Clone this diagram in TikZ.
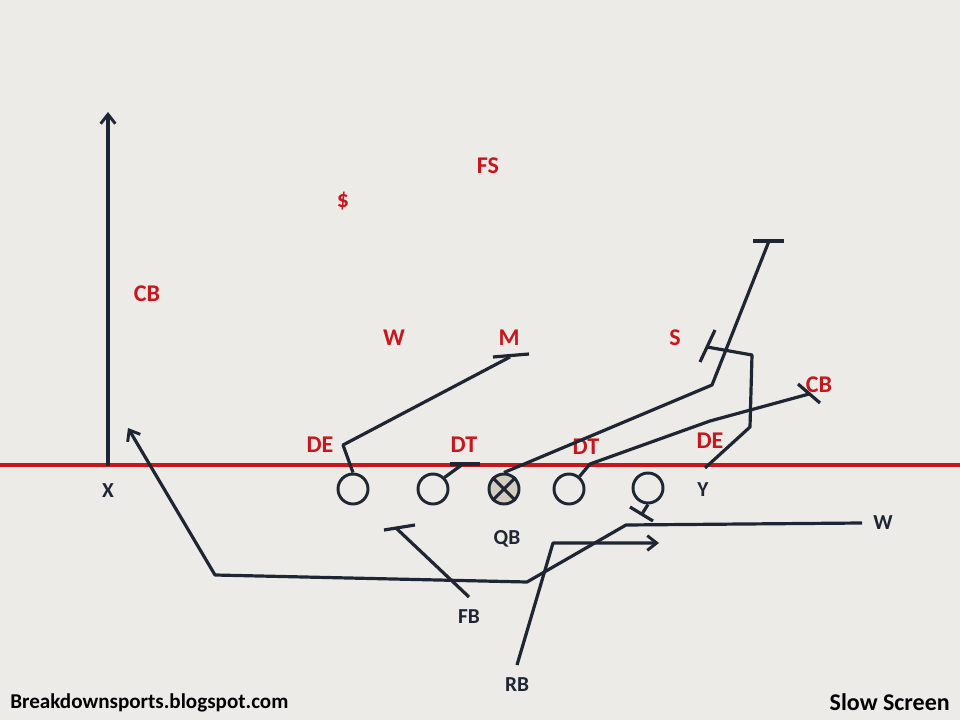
\documentclass[tikz,border=0pt]{standalone}
\usepackage{fontspec}
\setmainfont{Carlito}
\usetikzlibrary{arrows.meta}
\definecolor{bg}{HTML}{EDEBE8}
\definecolor{fieldred}{HTML}{C8161D}
\definecolor{ink}{HTML}{1E2533}
\definecolor{cfill}{HTML}{D3CCC0}
\tikzset{
  route/.style={draw=ink, line width=2.4pt, line join=round},
  arr/.style={route, -{Straight Barb[length=7pt,width=11pt,line width=2.2pt]}},
  oline/.style={circle, draw=ink, line width=2.2pt, minimum size=22.5pt, inner sep=0pt},
  deflab/.style={text=fieldred, font=\bfseries\fontsize{18}{20}\selectfont, inner sep=1pt},
  offlab/.style={text=ink, font=\bfseries\fontsize{16}{18}\selectfont, inner sep=1pt},
  foot/.style={text=black, font=\bfseries\fontsize{15.8}{18}\selectfont, inner sep=0pt}
}
\begin{document}
\begin{tikzpicture}[x=0.75pt,y=-0.75pt]
\fill[bg] (0,0) rectangle (960,720);
\useasboundingbox (0,0) rectangle (960,720);
% line of scrimmage
\draw[fieldred, line width=2.3pt] (0,465) -- (960,465);
% offensive line
\node[oline] (LT) at (353,489) {};
\node[oline] (LG) at (433,489) {};
\node[oline, fill=cfill] (C) at (504,489) {};
\draw[ink, line width=2.2pt] (C.45) -- (C.225) (C.135) -- (C.315);
\node[oline] (RG) at (569,489) {};
\node[oline] (RT) at (648,488) {};
% labels: defense
\node[deflab] (FS) at (488,166) {FS};
\node[deflab] (DOL) at (343,201) {\$};
\node[deflab] (CBL) at (147,294) {CB};
\node[deflab] (WL) at (394,338) {W};
\node[deflab] (ML) at (509,338) {M};
\node[deflab] (SL) at (675,338) {S};
\node[deflab] (CBR) at (819,385) {CB};
\node[deflab] (DEL) at (320,445) {DE};
\node[deflab] (DTL) at (464,445) {DT};
\node[deflab] (DTR) at (586,447) {DT};
\node[deflab] (DER) at (710,441) {DE};
% labels: offense
\node[offlab] (X) at (108,491) {X};
\node[offlab] (Y) at (703,490) {Y};
\node[offlab] (QB) at (507,539) {QB};
\node[offlab] (W) at (883,523) {W};
\node[offlab] (FB) at (469,617) {FB};
\node[offlab] (RB) at (517,685) {RB};
% footer
\node[foot, anchor=west] (site) at (10,703) {Breakdownsports.blogspot.com};
\node[foot, font=\bfseries\fontsize{18}{20}\selectfont, anchor=east] (title) at (950,702) {Slow Screen};
% X route
\coordinate (Xs) at (108,466);
\coordinate (Xe) at (108,112);
\draw[arr] (Xs) -- (Xe);
% LT block on M
\coordinate (lt1) at (343,445);
\coordinate (lt2) at (510,357);
\draw[route] (LT.north) -- (lt1) -- (lt2);
\draw[route] (493,357) -- (529,354);
% LG block on DT
\coordinate (lg1) at (463,464);
\draw[route] (LG.45) -- (lg1);
\draw[route] (450,464) -- (480,464);
% C block
\coordinate (c1) at (712,385);
\coordinate (c2) at (769,241);
\draw[route] (C.north) -- (c1) -- (c2);
\draw[route] (753,241) -- (784,241);
% RG block on CB
\coordinate (rg1) at (590,464);
\coordinate (rg2) at (710,421);
\coordinate (rg3) at (809,394);
\draw[route] (RG.50) -- (rg1) -- (rg2) -- (rg3);
\draw[route] (798,384) -- (820,403);
% Y block on S
\coordinate (y0) at (705,468);
\coordinate (y1) at (750,427);
\coordinate (y2) at (752,355);
\coordinate (y3) at (707,347);
\draw[route] (y0) -- (y1) -- (y2) -- (y3);
\draw[route] (715,330) -- (700,362);
% RT block
\coordinate (rt1) at (642,514);
\draw[route] (RT.south) -- (rt1);
\draw[route] (630,507) -- (653,521);
% W route
\coordinate (w0) at (862,523);
\coordinate (w1) at (626,525);
\coordinate (w2) at (527,582);
\coordinate (w3) at (215,575);
\coordinate (w4) at (128,428);
\draw[arr] (w0) -- (w1) -- (w2) -- (w3) -- (w4);
% FB block
\coordinate (fb0) at (469,597);
\coordinate (fb1) at (396,528);
\draw[route] (fb0) -- (fb1);
\draw[route] (384,530) -- (415,525);
% RB route
\coordinate (rb0) at (517,665);
\coordinate (rb1) at (553,543);
\coordinate (rb2) at (659,543);
\draw[arr] (rb0) -- (rb1) -- (rb2);
\end{tikzpicture}
\end{document}
